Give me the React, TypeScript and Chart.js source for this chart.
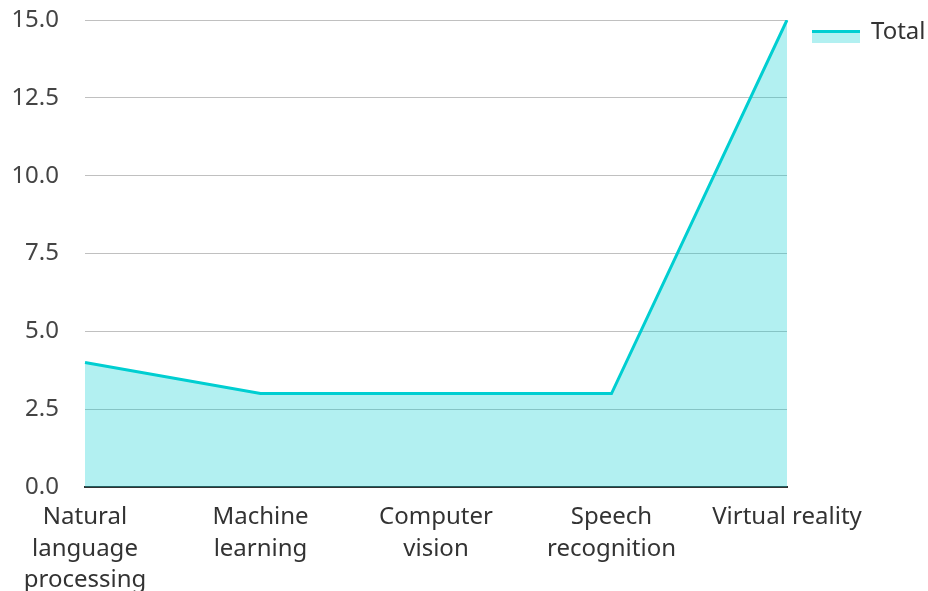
import React, { useEffect, useRef } from "react";
import { Chart, registerables } from "chart.js";

Chart.register(...registerables);

const categories: (string | string[])[] = [
  ["Natural", "language", "processing"],
  ["Machine", "learning"],
  ["Computer", "vision"],
  ["Speech", "recognition"],
  "Virtual reality",
];
const totalValues = [4, 3, 3, 3, 15];
const yTickValues = [0, 2.5, 5, 7.5, 10, 12.5, 15];
const seriesName = "Total";
const lineColor = "#00CED1";
const fillColor = "rgba(0, 206, 209, 0.3)";
const FONT = "'Noto Sans', 'Open Sans', sans-serif";

const legendPlugin = {
  id: "customLegend",
  afterDraw(chart: any) {
    const ctx = chart.ctx;
    const x = chart.chartArea.right + 25;
    const y = 30;
    ctx.save();
    ctx.fillStyle = fillColor;
    ctx.fillRect(x, y, 48, 13);
    ctx.strokeStyle = lineColor;
    ctx.lineWidth = 3;
    ctx.beginPath();
    ctx.moveTo(x, y + 1.5);
    ctx.lineTo(x + 48, y + 1.5);
    ctx.stroke();
    ctx.fillStyle = "#333";
    ctx.font = `24px ${FONT}`;
    ctx.textBaseline = "middle";
    ctx.textAlign = "left";
    ctx.fillText(seriesName, x + 59, y + 2);
    ctx.restore();
  },
};

export default function App() {
  const ref = useRef<HTMLCanvasElement>(null);
  useEffect(() => {
    document.body.style.margin = "0";
    if (!ref.current) return;
    const chart = new Chart(ref.current, {
      type: "line",
      data: {
        labels: categories,
        datasets: [
          {
            label: seriesName,
            data: totalValues,
            borderColor: lineColor,
            backgroundColor: fillColor,
            borderWidth: 3,
            fill: "origin",
            pointRadius: 0,
            tension: 0,
          },
        ],
      },
      options: {
        animation: false,
        responsive: false,
        devicePixelRatio: 1,
        layout: { padding: { top: 20, right: 141, left: 0, bottom: 0 } },
        plugins: {
          legend: { display: false },
          tooltip: { enabled: false },
        },
        scales: {
          x: {
            offset: false,
            grid: { display: false, drawTicks: false },
            border: { display: true, color: "#333", width: 2 },
            ticks: {
              color: "#333",
              font: { family: FONT, size: 24, lineHeight: 1.3 },
              padding: 15,
              maxRotation: 0,
              autoSkip: false,
            },
            afterFit: (s: any) => {
              s.paddingLeft = 0;
              s.paddingRight = 0;
              s.height = 113;
            },
          },
          y: {
            min: 0,
            max: 15,
            grid: { color: "#c0c0c0", lineWidth: 1, drawTicks: false },
            border: { display: false },
            afterBuildTicks: (s: any) => {
              s.ticks = yTickValues.map((v) => ({ value: v }));
            },
            ticks: {
              color: "#444",
              font: { family: FONT, size: 24 },
              padding: 26,
              callback: (v: any) => Number(v).toFixed(1),
            },
            afterFit: (s: any) => {
              s.paddingTop = 0;
              s.paddingBottom = 0;
              s.width = 85;
            },
          },
        },
      },
      plugins: [legendPlugin],
    });
    return () => chart.destroy();
  }, []);
  return (
    <div style={{ position: "relative", width: 928, height: 600 }}>
      <canvas ref={ref} width={928} height={600} style={{ display: "block", width: 928, height: 600 }} />
    </div>
  );
}
